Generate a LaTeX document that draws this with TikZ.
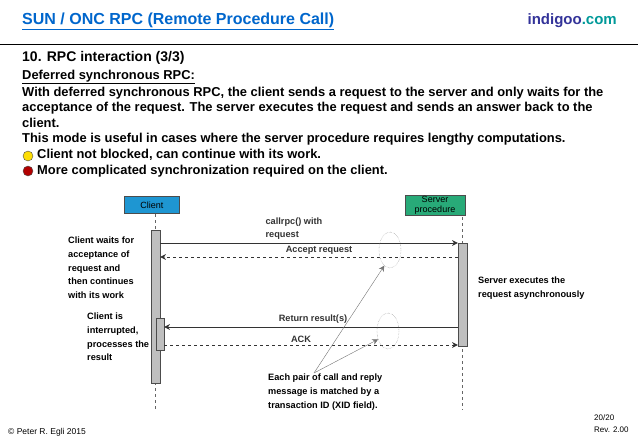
\documentclass[tikz,border=0pt]{standalone}
\usepackage{fontspec}
\setmainfont{Liberation Sans}
\usetikzlibrary{positioning}
\usetikzlibrary{arrows.meta}
\usetikzlibrary{shapes.geometric}
\definecolor{titleblue}{RGB}{0,102,204}
\definecolor{indigo}{RGB}{51,51,153}
\definecolor{teal}{RGB}{0,153,153}
\definecolor{clientblue}{RGB}{30,150,210}
\definecolor{servergreen}{RGB}{40,170,120}
\tikzset{>={Stealth[width=2mm,length=2mm]}}
\tikzset{
  txt/.style={anchor=north west, inner sep=0pt, font=\bfseries\fontsize{12.9}{15.6}\selectfont, align=left},
  lbl/.style={inner sep=0pt, font=\bfseries\fontsize{9.2}{13.7}\selectfont, align=left},
  actor/.style={draw=black!70, minimum height=17pt, inner sep=1pt, font=\fontsize{9}{10}\selectfont, align=center},
  life/.style={dashed, black!60, thick},
  bar/.style={draw=black!70, fill=black!25},
  msg/.style={->, black!80},
  reply/.style={->, dashed, black!80},
  smiley/.style={circle, draw=black!70, minimum size=10pt, inner sep=0pt}
}
\begin{document}
\begin{tikzpicture}[x=1pt,y=-1pt]
\useasboundingbox (0,0) rectangle (638,442);
% header
\node (title) [anchor=west, inner sep=0pt, text=titleblue, font=\bfseries\fontsize{16}{20}\selectfont] at (22,21) {\underline{SUN / ONC RPC (Remote Procedure Call)}};
\node (logo) [anchor=east, inner sep=0pt, font=\bfseries\fontsize{15}{18}\selectfont] at (617,21) {\textcolor{indigo}{indigoo}\textcolor{teal}{.com}};
\coordinate (hl) at (0,44);
\coordinate (hr) at (638,44);
\draw (hl) -- (hr);
\node (head) [anchor=west, inner sep=0pt, font=\bfseries\fontsize{14}{16}\selectfont] at (22,58) {10. RPC interaction (3/3)};
\node (body) [txt] at (22,70) {\underline{Deferred synchronous RPC:}\\[1pt]
With deferred synchronous RPC, the client sends a request to the server and only waits for the\\
acceptance of the request. The server executes the request and sends an answer back to the\\
client.\\
This mode is useful in cases where the server procedure requires lengthy computations.\\
\hspace{15pt}Client not blocked, can continue with its work.\\
\hspace{15pt}More complicated synchronization required on the client.};
\node (good) [smiley, fill=yellow!80!orange] at (28,156) {};
\node (bad) [smiley, fill=red!70!black] at (28,171) {};

% actors and lifelines
\node (C) [actor, fill=clientblue, minimum width=55pt] at (152,205) {Client};
\node (S) [actor, fill=servergreen, minimum width=60pt] at (435,205) {Server\\procedure};
\coordinate (Cend) at (155,410);
\coordinate (Send) at (462,410);
\draw [life] (155,214) -- (Cend);
\draw [life] (462,217) -- (Send);
\node (CB) [bar, minimum width=9pt, minimum height=153pt, inner sep=0pt] at (155.5,306.5) {};
\node (SB) [bar, minimum width=9pt, minimum height=103pt, inner sep=0pt] at (462.5,294.5) {};
\node (CI) [bar, minimum width=8pt, minimum height=32pt, inner sep=0pt] at (160,334) {};

% messages
\draw [msg] (CB.east |- 0,243) -- node [lbl, above=3pt, xshift=-15pt] {callrpc() with\\request} (SB.west |- 0,243);
\draw [reply] (SB.west |- 0,257) -- node [lbl, above=2pt, xshift=10pt] {Accept request} (CB.east |- 0,257);
\draw [msg] (SB.west |- 0,327) -- node [lbl, above=3pt, xshift=2pt] {Return result(s)} (CI.east |- 0,327);
\draw [reply] (CI.east |- 0,345) -- node [lbl, above=2pt, xshift=-10pt] {ACK} (SB.west |- 0,345);

% transaction id
\node (E1) [draw=black!50, densely dotted, ellipse, minimum width=22pt, minimum height=36pt, inner sep=0pt] at (390,250) {};
\node (E2) [draw=black!50, densely dotted, ellipse, minimum width=22pt, minimum height=36pt, inner sep=0pt] at (388,331) {};
\node (xid) [lbl, anchor=north west] at (268,374) {Each pair of call and reply\\message is matched by a\\transaction ID (XID field).};
\coordinate (tip) at (314,373);
\draw [->, black!55] (tip) -- (E1.250);
\draw [->, black!55] (tip) -- (E2.220);

% side notes
\node (wait) [lbl, anchor=north west] at (68,237) {Client waits for\\acceptance of\\request and\\then continues\\with its work};
\node (intr) [lbl, anchor=north west] at (87,313) {Client is\\interrupted,\\processes the\\result};
\node (exec) [lbl, anchor=north west] at (478,277) {Server executes the\\request asynchronously};

% footer
\node (copy) [anchor=west, inner sep=0pt, font=\fontsize{8.5}{10}\selectfont] at (8,432) {\textcopyright{} Peter R. Egli 2015};
\node (page) [anchor=north west, inner sep=0pt, align=left, font=\fontsize{8}{12}\selectfont] at (594,414) {20/20\\Rev. 2.00};
\end{tikzpicture}
\end{document}
